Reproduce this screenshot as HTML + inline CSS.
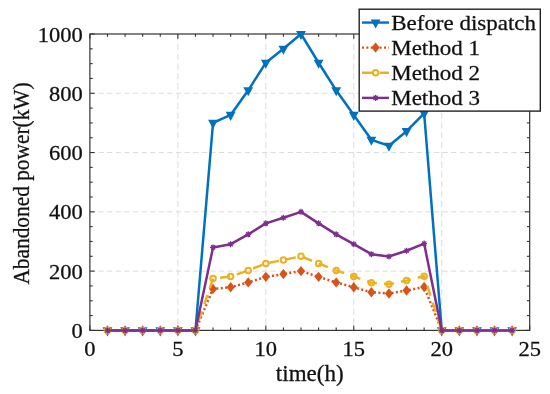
<!DOCTYPE html>
<html><head><meta charset="utf-8"><title>Abandoned power</title>
<style>html,body{margin:0;padding:0;background:#fff}svg{display:block}text{font-family:"Liberation Serif",serif;fill:#111;stroke:#111;stroke-width:0.3px}</style></head><body>
<svg width="550" height="394" viewBox="0 0 550 394">
<rect width="550" height="394" fill="#fff"/>
<g stroke="#dcdcdc" stroke-width="1" stroke-dasharray="5.3 3.3" fill="none">
<line x1="177.86" y1="34.0" x2="177.86" y2="330.4" stroke-dasharray="6.4 3.4"/>
<line x1="265.82" y1="34.0" x2="265.82" y2="330.4" stroke-dasharray="6.4 3.4"/>
<line x1="353.78" y1="34.0" x2="353.78" y2="330.4" stroke-dasharray="6.4 3.4"/>
<line x1="441.74" y1="34.0" x2="441.74" y2="330.4" stroke-dasharray="6.4 3.4"/>
<line x1="89.9" y1="271.12" x2="529.7" y2="271.12"/>
<line x1="89.9" y1="211.84" x2="529.7" y2="211.84"/>
<line x1="89.9" y1="152.56" x2="529.7" y2="152.56"/>
<line x1="89.9" y1="93.28" x2="529.7" y2="93.28"/>
</g>
<defs>
<path id="tri" d="M-4.9,-3.1 L4.9,-3.1 L0,6.0 Z" fill="#0072BD"/>
<path id="dia" d="M0,-5.2 L4.1,0 L0,5.2 L-4.1,0 Z" fill="#D95319"/>
<circle id="cir" r="2.75" fill="none" stroke="#EDB120" stroke-width="2"/>
<path id="star" d="M-3,0H3M0,-3V3M-2.1,-2.1L2.1,2.1M-2.1,2.1L2.1,-2.1" stroke="#7E2F8E" stroke-width="1.3" fill="none"/>
</defs>
<rect x="89.9" y="34.0" width="439.80000000000007" height="296.4" fill="none" stroke="#333" stroke-width="1.2"/>
<g stroke="#333" stroke-width="1.1">
<line x1="89.90" y1="330.4" x2="89.90" y2="325.59999999999997"/>
<line x1="89.90" y1="34.0" x2="89.90" y2="38.8"/>
<line x1="107.49" y1="330.4" x2="107.49" y2="327.59999999999997"/>
<line x1="107.49" y1="34.0" x2="107.49" y2="36.8"/>
<line x1="125.08" y1="330.4" x2="125.08" y2="327.59999999999997"/>
<line x1="125.08" y1="34.0" x2="125.08" y2="36.8"/>
<line x1="142.68" y1="330.4" x2="142.68" y2="327.59999999999997"/>
<line x1="142.68" y1="34.0" x2="142.68" y2="36.8"/>
<line x1="160.27" y1="330.4" x2="160.27" y2="327.59999999999997"/>
<line x1="160.27" y1="34.0" x2="160.27" y2="36.8"/>
<line x1="177.86" y1="330.4" x2="177.86" y2="325.59999999999997"/>
<line x1="177.86" y1="34.0" x2="177.86" y2="38.8"/>
<line x1="195.45" y1="330.4" x2="195.45" y2="327.59999999999997"/>
<line x1="195.45" y1="34.0" x2="195.45" y2="36.8"/>
<line x1="213.04" y1="330.4" x2="213.04" y2="327.59999999999997"/>
<line x1="213.04" y1="34.0" x2="213.04" y2="36.8"/>
<line x1="230.64" y1="330.4" x2="230.64" y2="327.59999999999997"/>
<line x1="230.64" y1="34.0" x2="230.64" y2="36.8"/>
<line x1="248.23" y1="330.4" x2="248.23" y2="327.59999999999997"/>
<line x1="248.23" y1="34.0" x2="248.23" y2="36.8"/>
<line x1="265.82" y1="330.4" x2="265.82" y2="325.59999999999997"/>
<line x1="265.82" y1="34.0" x2="265.82" y2="38.8"/>
<line x1="283.41" y1="330.4" x2="283.41" y2="327.59999999999997"/>
<line x1="283.41" y1="34.0" x2="283.41" y2="36.8"/>
<line x1="301.00" y1="330.4" x2="301.00" y2="327.59999999999997"/>
<line x1="301.00" y1="34.0" x2="301.00" y2="36.8"/>
<line x1="318.60" y1="330.4" x2="318.60" y2="327.59999999999997"/>
<line x1="318.60" y1="34.0" x2="318.60" y2="36.8"/>
<line x1="336.19" y1="330.4" x2="336.19" y2="327.59999999999997"/>
<line x1="336.19" y1="34.0" x2="336.19" y2="36.8"/>
<line x1="353.78" y1="330.4" x2="353.78" y2="325.59999999999997"/>
<line x1="353.78" y1="34.0" x2="353.78" y2="38.8"/>
<line x1="371.37" y1="330.4" x2="371.37" y2="327.59999999999997"/>
<line x1="371.37" y1="34.0" x2="371.37" y2="36.8"/>
<line x1="388.96" y1="330.4" x2="388.96" y2="327.59999999999997"/>
<line x1="388.96" y1="34.0" x2="388.96" y2="36.8"/>
<line x1="406.56" y1="330.4" x2="406.56" y2="327.59999999999997"/>
<line x1="406.56" y1="34.0" x2="406.56" y2="36.8"/>
<line x1="424.15" y1="330.4" x2="424.15" y2="327.59999999999997"/>
<line x1="424.15" y1="34.0" x2="424.15" y2="36.8"/>
<line x1="441.74" y1="330.4" x2="441.74" y2="325.59999999999997"/>
<line x1="441.74" y1="34.0" x2="441.74" y2="38.8"/>
<line x1="459.33" y1="330.4" x2="459.33" y2="327.59999999999997"/>
<line x1="459.33" y1="34.0" x2="459.33" y2="36.8"/>
<line x1="476.92" y1="330.4" x2="476.92" y2="327.59999999999997"/>
<line x1="476.92" y1="34.0" x2="476.92" y2="36.8"/>
<line x1="494.52" y1="330.4" x2="494.52" y2="327.59999999999997"/>
<line x1="494.52" y1="34.0" x2="494.52" y2="36.8"/>
<line x1="512.11" y1="330.4" x2="512.11" y2="327.59999999999997"/>
<line x1="512.11" y1="34.0" x2="512.11" y2="36.8"/>
<line x1="529.70" y1="330.4" x2="529.70" y2="325.59999999999997"/>
<line x1="529.70" y1="34.0" x2="529.70" y2="38.8"/>
<line x1="89.9" y1="330.40" x2="94.7" y2="330.40"/>
<line x1="529.7" y1="330.40" x2="524.9000000000001" y2="330.40"/>
<line x1="89.9" y1="315.58" x2="92.7" y2="315.58"/>
<line x1="529.7" y1="315.58" x2="526.9000000000001" y2="315.58"/>
<line x1="89.9" y1="300.76" x2="92.7" y2="300.76"/>
<line x1="529.7" y1="300.76" x2="526.9000000000001" y2="300.76"/>
<line x1="89.9" y1="285.94" x2="92.7" y2="285.94"/>
<line x1="529.7" y1="285.94" x2="526.9000000000001" y2="285.94"/>
<line x1="89.9" y1="271.12" x2="94.7" y2="271.12"/>
<line x1="529.7" y1="271.12" x2="524.9000000000001" y2="271.12"/>
<line x1="89.9" y1="256.30" x2="92.7" y2="256.30"/>
<line x1="529.7" y1="256.30" x2="526.9000000000001" y2="256.30"/>
<line x1="89.9" y1="241.48" x2="92.7" y2="241.48"/>
<line x1="529.7" y1="241.48" x2="526.9000000000001" y2="241.48"/>
<line x1="89.9" y1="226.66" x2="92.7" y2="226.66"/>
<line x1="529.7" y1="226.66" x2="526.9000000000001" y2="226.66"/>
<line x1="89.9" y1="211.84" x2="94.7" y2="211.84"/>
<line x1="529.7" y1="211.84" x2="524.9000000000001" y2="211.84"/>
<line x1="89.9" y1="197.02" x2="92.7" y2="197.02"/>
<line x1="529.7" y1="197.02" x2="526.9000000000001" y2="197.02"/>
<line x1="89.9" y1="182.20" x2="92.7" y2="182.20"/>
<line x1="529.7" y1="182.20" x2="526.9000000000001" y2="182.20"/>
<line x1="89.9" y1="167.38" x2="92.7" y2="167.38"/>
<line x1="529.7" y1="167.38" x2="526.9000000000001" y2="167.38"/>
<line x1="89.9" y1="152.56" x2="94.7" y2="152.56"/>
<line x1="529.7" y1="152.56" x2="524.9000000000001" y2="152.56"/>
<line x1="89.9" y1="137.74" x2="92.7" y2="137.74"/>
<line x1="529.7" y1="137.74" x2="526.9000000000001" y2="137.74"/>
<line x1="89.9" y1="122.92" x2="92.7" y2="122.92"/>
<line x1="529.7" y1="122.92" x2="526.9000000000001" y2="122.92"/>
<line x1="89.9" y1="108.10" x2="92.7" y2="108.10"/>
<line x1="529.7" y1="108.10" x2="526.9000000000001" y2="108.10"/>
<line x1="89.9" y1="93.28" x2="94.7" y2="93.28"/>
<line x1="529.7" y1="93.28" x2="524.9000000000001" y2="93.28"/>
<line x1="89.9" y1="78.46" x2="92.7" y2="78.46"/>
<line x1="529.7" y1="78.46" x2="526.9000000000001" y2="78.46"/>
<line x1="89.9" y1="63.64" x2="92.7" y2="63.64"/>
<line x1="529.7" y1="63.64" x2="526.9000000000001" y2="63.64"/>
<line x1="89.9" y1="48.82" x2="92.7" y2="48.82"/>
<line x1="529.7" y1="48.82" x2="526.9000000000001" y2="48.82"/>
<line x1="89.9" y1="34.00" x2="94.7" y2="34.00"/>
<line x1="529.7" y1="34.00" x2="524.9000000000001" y2="34.00"/>
</g>
<polyline points="107.49,330.40 125.08,330.40 142.68,330.40 160.27,330.40 177.86,330.40 195.45,330.40 213.04,122.92 230.64,114.92 248.23,90.32 265.82,62.75 283.41,48.82 301.00,34.00 318.60,62.75 336.19,90.32 353.78,114.92 371.37,139.81 388.96,145.74 406.56,131.22 424.15,113.44 441.74,330.40 459.33,330.40 476.92,330.40 494.52,330.40 512.11,330.40" fill="none" stroke="#0072BD" stroke-width="2.5" stroke-linejoin="round"/>
<use href="#tri" x="107.49" y="330.40"/>
<use href="#tri" x="125.08" y="330.40"/>
<use href="#tri" x="142.68" y="330.40"/>
<use href="#tri" x="160.27" y="330.40"/>
<use href="#tri" x="177.86" y="330.40"/>
<use href="#tri" x="195.45" y="330.40"/>
<use href="#tri" x="213.04" y="122.92"/>
<use href="#tri" x="230.64" y="114.92"/>
<use href="#tri" x="248.23" y="90.32"/>
<use href="#tri" x="265.82" y="62.75"/>
<use href="#tri" x="283.41" y="48.82"/>
<use href="#tri" x="301.00" y="34.00"/>
<use href="#tri" x="318.60" y="62.75"/>
<use href="#tri" x="336.19" y="90.32"/>
<use href="#tri" x="353.78" y="114.92"/>
<use href="#tri" x="371.37" y="139.81"/>
<use href="#tri" x="388.96" y="145.74"/>
<use href="#tri" x="406.56" y="131.22"/>
<use href="#tri" x="424.15" y="113.44"/>
<use href="#tri" x="441.74" y="330.40"/>
<use href="#tri" x="459.33" y="330.40"/>
<use href="#tri" x="476.92" y="330.40"/>
<use href="#tri" x="494.52" y="330.40"/>
<use href="#tri" x="512.11" y="330.40"/>
<polyline points="107.49,330.40 125.08,330.40 142.68,330.40 160.27,330.40 177.86,330.40 195.45,330.40 213.04,288.90 230.64,287.30 248.23,282.38 265.82,276.87 283.41,274.08 301.00,271.12 318.60,276.87 336.19,282.38 353.78,287.30 371.37,292.28 388.96,293.47 406.56,290.56 424.15,287.01 441.74,330.40 459.33,330.40 476.92,330.40 494.52,330.40 512.11,330.40" fill="none" stroke="#D95319" stroke-width="2.5" stroke-linejoin="round" stroke-dasharray="2 2.4" stroke-dashoffset="0"/>
<use href="#dia" x="107.49" y="330.40"/>
<use href="#dia" x="125.08" y="330.40"/>
<use href="#dia" x="142.68" y="330.40"/>
<use href="#dia" x="160.27" y="330.40"/>
<use href="#dia" x="177.86" y="330.40"/>
<use href="#dia" x="195.45" y="330.40"/>
<use href="#dia" x="213.04" y="288.90"/>
<use href="#dia" x="230.64" y="287.30"/>
<use href="#dia" x="248.23" y="282.38"/>
<use href="#dia" x="265.82" y="276.87"/>
<use href="#dia" x="283.41" y="274.08"/>
<use href="#dia" x="301.00" y="271.12"/>
<use href="#dia" x="318.60" y="276.87"/>
<use href="#dia" x="336.19" y="282.38"/>
<use href="#dia" x="353.78" y="287.30"/>
<use href="#dia" x="371.37" y="292.28"/>
<use href="#dia" x="388.96" y="293.47"/>
<use href="#dia" x="406.56" y="290.56"/>
<use href="#dia" x="424.15" y="287.01"/>
<use href="#dia" x="441.74" y="330.40"/>
<use href="#dia" x="459.33" y="330.40"/>
<use href="#dia" x="476.92" y="330.40"/>
<use href="#dia" x="494.52" y="330.40"/>
<use href="#dia" x="512.11" y="330.40"/>
<polyline points="107.49,330.40 125.08,330.40 142.68,330.40 160.27,330.40 177.86,330.40 195.45,330.40 213.04,278.53 230.64,276.53 248.23,270.38 265.82,263.49 283.41,260.00 301.00,256.30 318.60,263.49 336.19,270.38 353.78,276.53 371.37,282.75 388.96,284.24 406.56,280.60 424.15,276.16 441.74,330.40 459.33,330.40 476.92,330.40 494.52,330.40 512.11,330.40" fill="none" stroke="#EDB120" stroke-width="2.5" stroke-linejoin="round" stroke-dasharray="10 7.2" stroke-dashoffset="5"/>
<use href="#cir" x="107.49" y="330.40"/>
<use href="#cir" x="125.08" y="330.40"/>
<use href="#cir" x="142.68" y="330.40"/>
<use href="#cir" x="160.27" y="330.40"/>
<use href="#cir" x="177.86" y="330.40"/>
<use href="#cir" x="195.45" y="330.40"/>
<use href="#cir" x="213.04" y="278.53"/>
<use href="#cir" x="230.64" y="276.53"/>
<use href="#cir" x="248.23" y="270.38"/>
<use href="#cir" x="265.82" y="263.49"/>
<use href="#cir" x="283.41" y="260.00"/>
<use href="#cir" x="301.00" y="256.30"/>
<use href="#cir" x="318.60" y="263.49"/>
<use href="#cir" x="336.19" y="270.38"/>
<use href="#cir" x="353.78" y="276.53"/>
<use href="#cir" x="371.37" y="282.75"/>
<use href="#cir" x="388.96" y="284.24"/>
<use href="#cir" x="406.56" y="280.60"/>
<use href="#cir" x="424.15" y="276.16"/>
<use href="#cir" x="441.74" y="330.40"/>
<use href="#cir" x="459.33" y="330.40"/>
<use href="#cir" x="476.92" y="330.40"/>
<use href="#cir" x="494.52" y="330.40"/>
<use href="#cir" x="512.11" y="330.40"/>
<polyline points="107.49,330.40 125.08,330.40 142.68,330.40 160.27,330.40 177.86,330.40 195.45,330.40 213.04,247.41 230.64,244.21 248.23,234.37 265.82,223.34 283.41,217.77 301.00,211.84 318.60,223.34 336.19,234.37 353.78,244.21 371.37,254.17 388.96,256.54 406.56,250.73 424.15,243.61 441.74,330.40 459.33,330.40 476.92,330.40 494.52,330.40 512.11,330.40" fill="none" stroke="#7E2F8E" stroke-width="2.5" stroke-linejoin="round"/>
<use href="#star" x="107.49" y="330.40"/>
<use href="#star" x="125.08" y="330.40"/>
<use href="#star" x="142.68" y="330.40"/>
<use href="#star" x="160.27" y="330.40"/>
<use href="#star" x="177.86" y="330.40"/>
<use href="#star" x="195.45" y="330.40"/>
<use href="#star" x="213.04" y="247.41"/>
<use href="#star" x="230.64" y="244.21"/>
<use href="#star" x="248.23" y="234.37"/>
<use href="#star" x="265.82" y="223.34"/>
<use href="#star" x="283.41" y="217.77"/>
<use href="#star" x="301.00" y="211.84"/>
<use href="#star" x="318.60" y="223.34"/>
<use href="#star" x="336.19" y="234.37"/>
<use href="#star" x="353.78" y="244.21"/>
<use href="#star" x="371.37" y="254.17"/>
<use href="#star" x="388.96" y="256.54"/>
<use href="#star" x="406.56" y="250.73"/>
<use href="#star" x="424.15" y="243.61"/>
<use href="#star" x="441.74" y="330.40"/>
<use href="#star" x="459.33" y="330.40"/>
<use href="#star" x="476.92" y="330.40"/>
<use href="#star" x="494.52" y="330.40"/>
<use href="#star" x="512.11" y="330.40"/>
<text transform="translate(89.90,356.30) scale(1,0.94)" font-size="22.5" text-anchor="middle">0</text>
<text transform="translate(177.86,356.30) scale(1,0.94)" font-size="22.5" text-anchor="middle">5</text>
<text transform="translate(265.82,356.30) scale(1,0.94)" font-size="22.5" text-anchor="middle">10</text>
<text transform="translate(353.78,356.30) scale(1,0.94)" font-size="22.5" text-anchor="middle">15</text>
<text transform="translate(441.74,356.30) scale(1,0.94)" font-size="22.5" text-anchor="middle">20</text>
<text transform="translate(529.70,356.30) scale(1,0.94)" font-size="22.5" text-anchor="middle">25</text>
<text transform="translate(82.70,337.90) scale(1,0.94)" font-size="22.5" text-anchor="end">0</text>
<text transform="translate(82.70,278.62) scale(1,0.94)" font-size="22.5" text-anchor="end">200</text>
<text transform="translate(82.70,219.34) scale(1,0.94)" font-size="22.5" text-anchor="end">400</text>
<text transform="translate(82.70,160.06) scale(1,0.94)" font-size="22.5" text-anchor="end">600</text>
<text transform="translate(82.70,100.78) scale(1,0.94)" font-size="22.5" text-anchor="end">800</text>
<text transform="translate(82.70,41.50) scale(1,0.94)" font-size="22.5" text-anchor="end">1000</text>
<text transform="translate(309.70,380.60) scale(1,0.96)" font-size="23" text-anchor="middle">time(h)</text>
<text transform="translate(29.2,183.5) rotate(-90) scale(0.89,1)" font-size="24" text-anchor="middle">Abandoned power(kW)</text>
<rect x="359.2" y="9.2" width="181.1" height="101.9" fill="#fff" stroke="#222" stroke-width="1.4"/>
<line x1="362" y1="22.55" x2="389" y2="22.55" stroke="#0072BD" stroke-width="2.4"/>
<use href="#tri" transform="translate(375.6,22.55) scale(1)"/>
<text transform="translate(391.20,29.65) scale(1,0.91)" font-size="23.0" text-anchor="start">Before dispatch</text>
<line x1="362" y1="47.6" x2="389" y2="47.6" stroke="#D95319" stroke-width="2.4" stroke-dasharray="2 2.4"/>
<use href="#dia" transform="translate(375.6,47.6) scale(1)"/>
<text transform="translate(391.20,54.70) scale(1,0.91)" font-size="23.0" text-anchor="start">Method 1</text>
<line x1="362" y1="72.75" x2="389" y2="72.75" stroke="#EDB120" stroke-width="2.4" stroke-dasharray="10.5 7"/>
<use href="#cir" transform="translate(375.6,72.75) scale(1)"/>
<text transform="translate(391.20,79.85) scale(1,0.91)" font-size="23.0" text-anchor="start">Method 2</text>
<line x1="362" y1="97.9" x2="389" y2="97.9" stroke="#7E2F8E" stroke-width="2.4"/>
<use href="#star" transform="translate(375.6,97.9) scale(1)"/>
<text transform="translate(391.20,105.00) scale(1,0.91)" font-size="23.0" text-anchor="start">Method 3</text>
</svg></body></html>
